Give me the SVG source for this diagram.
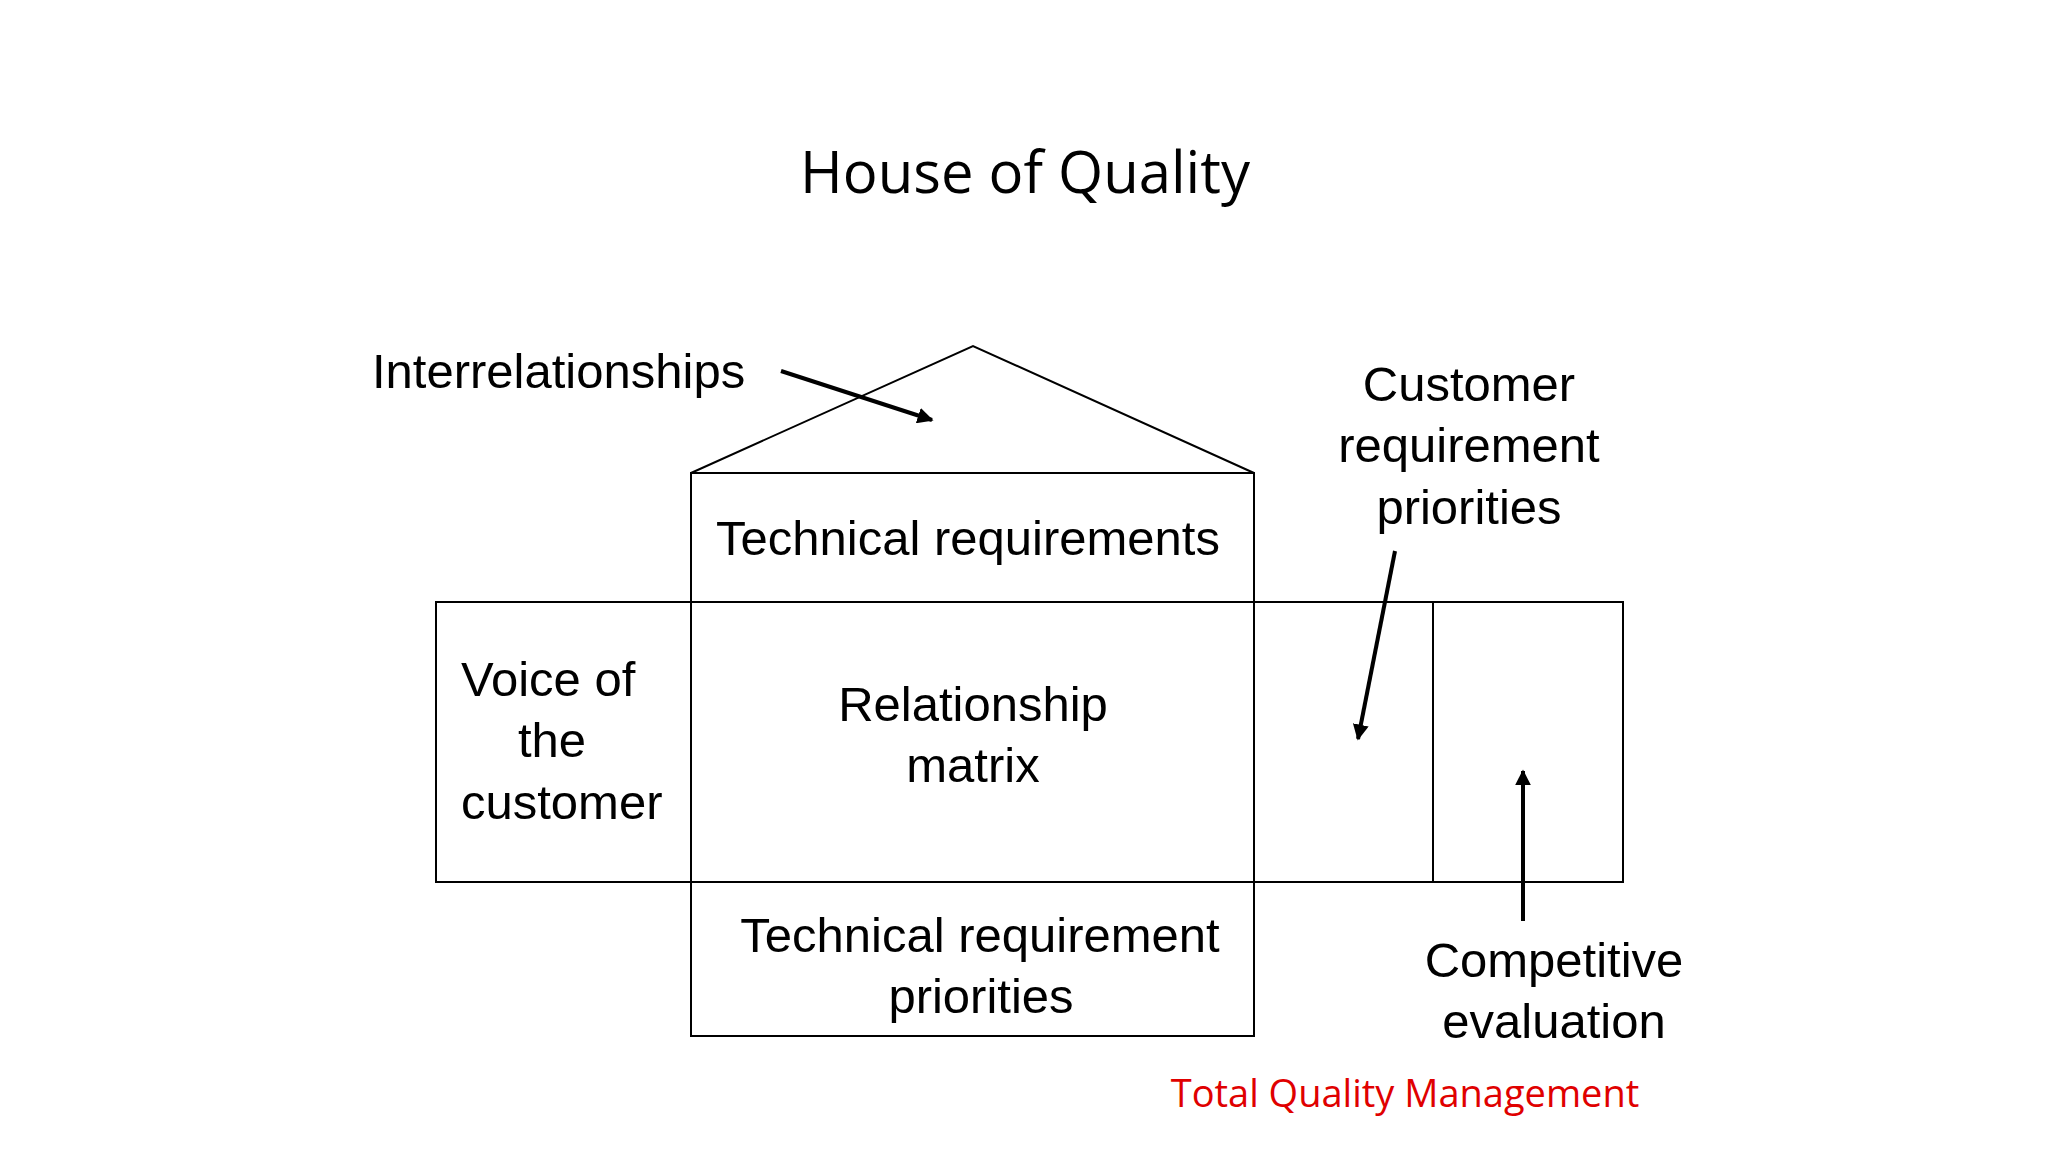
<svg xmlns="http://www.w3.org/2000/svg" width="2048" height="1152" viewBox="0 0 2048 1152">
<style>
.b{fill:none;stroke:#000;stroke-width:2}
.t{font-family:"Liberation Sans",Arial,sans-serif;font-size:49px;fill:#000}
.c{text-anchor:middle}
.a{stroke:#000;stroke-width:4;fill:none;marker-end:url(#ah)}
</style>
<defs><marker id="ah" viewBox="0 0 10 10" refX="9" refY="5" markerWidth="4" markerHeight="4" orient="auto"><path d="M0,0L10,5L0,10z" fill="#000"/></marker></defs>
<rect width="2048" height="1152" fill="#fff"/>
<text x="1025" y="193" class="c" style="font-family:'Open Sans',sans-serif;font-size:58px">House of Quality</text>
<g id="roof"><path class="b" d="M691,473L973,346L1254,473"/></g>
<g id="tech"><rect class="b" x="691" y="473" width="563" height="129"/><text class="t c" x="968" y="555">Technical requirements</text></g>
<g id="voice"><rect class="b" x="436" y="602" width="255" height="280"/><text class="t" x="461" y="696">Voice of</text><text class="t" x="518" y="757">the</text><text class="t" x="461" y="819">customer</text></g>
<g id="matrix"><rect class="b" x="691" y="602" width="563" height="280"/><text class="t c" x="973" y="721">Relationship</text><text class="t c" x="973" y="782">matrix</text></g>
<g id="crp"><rect class="b" x="1254" y="602" width="179" height="280"/></g>
<g id="comp"><rect class="b" x="1433" y="602" width="190" height="280"/></g>
<g id="trp"><rect class="b" x="691" y="882" width="563" height="154"/><text class="t c" x="980" y="952">Technical requirement</text><text class="t c" x="981" y="1013">priorities</text></g>
<g id="labels">
<text class="t" x="372" y="388">Interrelationships</text>
<text class="t c" x="1469" y="401">Customer</text><text class="t c" x="1469" y="462">requirement</text><text class="t c" x="1469" y="524">priorities</text>
<text class="t c" x="1554" y="977">Competitive</text><text class="t c" x="1554" y="1038">evaluation</text>
<text x="1405" y="1107" class="c" style="font-family:'Open Sans',sans-serif;font-size:38px;fill:#e00000">Total Quality Management</text>
</g>
<g id="connectors">
<line class="a" x1="781" y1="371" x2="932" y2="420"/>
<line class="a" x1="1395" y1="551" x2="1358" y2="739"/>
<line class="a" x1="1523" y1="921" x2="1523" y2="771"/>
</g>
</svg>
